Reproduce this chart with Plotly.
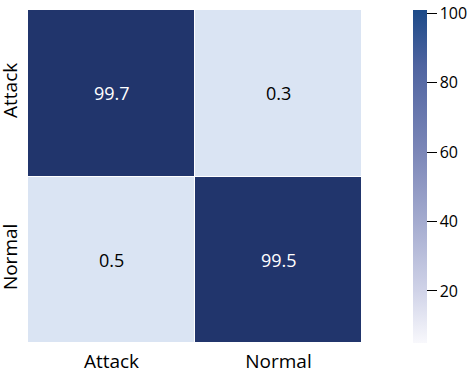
import plotly.graph_objects as go

# Data
x_labels = ["Attack", "Normal"]
y_labels = ["Attack", "Normal"]
z_values = [[99.7, 0.3],
            [0.5, 99.5]]
cbar_ticks = [20, 40, 60, 80, 100]

FONT = "Open Sans"

fig = go.Figure()

fig.add_trace(go.Heatmap(
    x=x_labels, y=y_labels, z=z_values,
    zmin=0.3, zmax=99.7,
    colorscale=[[0, "#dae4f3"], [1, "#21356c"]],
    showscale=False, xgap=1, ygap=1, hoverinfo="skip",
))

# colorbar carrier
fig.add_trace(go.Scatter(
    x=[None], y=[None], mode="markers", showlegend=False,
    marker=dict(
        color=[5, 101], cmin=5, cmax=101,
        colorscale=[[0, "#f8f8fc"], [0.156, "#d0d3e8"], [0.365, "#a4abcf"],
                    [0.573, "#7c87b8"], [0.833, "#4f64a0"], [1, "#1c4a88"]],
        showscale=True,
        colorbar=dict(
            thickness=14, len=333, lenmode="pixels",
            x=1.153, xanchor="left", y=0.5, yanchor="middle",
            xpad=0, ypad=0,
            outlinewidth=0,
            tickvals=cbar_ticks, ticks="outside", ticklen=10, tickwidth=1,
            tickcolor="black", tickprefix=" ",
            tickfont=dict(family=FONT, size=16, color="black"),
        ),
    ),
))

for i, yl in enumerate(y_labels):
    for j, xl in enumerate(x_labels):
        v = z_values[i][j]
        fig.add_annotation(
            x=xl, y=yl, text=f"{v}", showarrow=False,
            font=dict(family=FONT, size=18, color="white" if v > 50 else "black"),
        )

fig.update_layout(
    width=474, height=372,
    margin=dict(l=28, r=112, t=10, b=29, autoexpand=False),
    plot_bgcolor="white", paper_bgcolor="white",
    font=dict(family=FONT, color="black"),
)
fig.update_xaxes(showgrid=False, zeroline=False, ticks="", automargin=False,
                 ticklabelstandoff=5,
                 tickfont=dict(size=19, family=FONT, color="black"))
fig.update_yaxes(showgrid=False, zeroline=False, ticks="", autorange="reversed",
                 tickangle=-90, automargin=False, ticklabelstandoff=6,
                 tickfont=dict(size=19, family=FONT, color="black"))

fig.write_html("out.html",
               config={"displayModeBar": False},
               post_script="document.body.style.margin='0px';document.body.style.overflow='hidden';")
